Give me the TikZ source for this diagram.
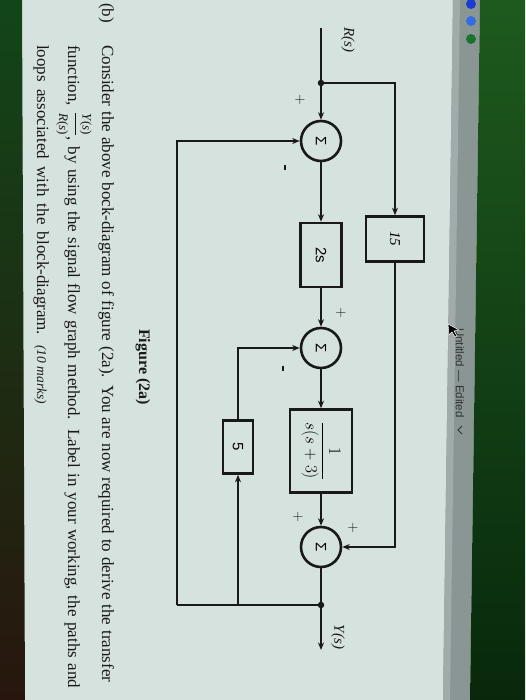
\documentclass[tikz,border=0pt]{standalone}
\usepackage{fontspec}
\setmainfont{Liberation Serif}
\setsansfont{Liberation Sans}
\usetikzlibrary{arrows.meta}
\definecolor{pagebg}{RGB}{214,226,222}
\definecolor{barbg}{RGB}{138,150,148}
\definecolor{darkgreen}{RGB}{18,70,24}
\definecolor{deepgreen}{RGB}{8,40,12}
\definecolor{midgreen}{RGB}{30,90,30}
\definecolor{darkbrown}{RGB}{40,22,14}
\definecolor{btnblue}{RGB}{25,60,210}
\definecolor{btnlblue}{RGB}{50,110,225}
\definecolor{btngreen}{RGB}{25,115,45}
\definecolor{ink}{RGB}{25,25,25}
\newcommand\yrfrac{\raisebox{3pt}{$\displaystyle\frac{\mbox{\fontsize{13}{13}\selectfont\textit{Y}(\textit{s})}}{\mbox{\fontsize{13}{13}\selectfont\textit{R}(\textit{s})}}$}}
\begin{document}
\begin{tikzpicture}[x=1pt,y=-1pt,
  wire/.style={line width=1.6pt, draw=ink},
  arr/.style={wire, -{Stealth[length=7.5pt,width=6pt]}},
  blk/.style={draw=ink, line width=2.6pt, inner sep=0pt},
  sumn/.style={circle, draw=ink, line width=2.6pt, minimum size=40pt, inner sep=0pt, font=\sffamily\fontsize{15}{15}\selectfont},
  sgn/.style={text=ink, font=\fontsize{15}{15}\selectfont, rotate=-90, inner sep=0pt},
  lbl/.style={text=ink, font=\itshape\fontsize{15}{15}\selectfont, rotate=-90, inner sep=0pt},
  para/.style={text=ink, font=\fontsize{17}{20}\selectfont, rotate=-90, anchor=base west, inner sep=0pt},
  dot/.style={circle, fill=ink, inner sep=0pt, minimum size=6.5pt}
]
\useasboundingbox (0,0) rectangle (525,700);
% background
\fill[pagebg] (0,0) rectangle (525,700);
\shade[top color=darkgreen, bottom color=darkbrown] (0,0) -- (22,0) -- (25,700) -- (0,700) -- cycle;
\fill[barbg] (453,0) -- (480,0) -- (470,700) -- (443,700) -- cycle;
\fill[barbg!80!white] (453,0) -- (460,0) -- (450,700) -- (443,700) -- cycle;
\shade[top color=midgreen, bottom color=deepgreen] (480,0) -- (525,0) -- (525,700) -- (470,700) -- cycle;
\fill[btnblue] (471,4) circle (5);
\fill[btnlblue] (471,21) circle (5);
\fill[btngreen] (471,39) circle (5);
\node[rotate=-90, anchor=west, inner sep=0pt, text=black!80, font=\sffamily\fontsize{11.5}{12}\selectfont] (title) at (460,328) {Untitled --- Edited};
\draw[black!80, line width=0.9pt] (462,426) -- (458,430) -- (462,434);
\fill[black, draw=white, line width=0.5pt] (448,324) -- (459,330) -- (454,331) -- (457,336) -- (455,337) -- (452,332) -- (449,335) -- cycle;

% diagram nodes
\node[dot] (j1) at (321,83) {};
\node[sumn] (s1) at (321,141) {\rotatebox{-90}{Σ}};
\node[blk, minimum width=41pt, minimum height=64pt, font=\sffamily\fontsize{15}{15}\selectfont] (b2s) at (321,255) {\rotatebox{-90}{2s}};
\node[blk, minimum width=58pt, minimum height=45pt, font=\itshape\fontsize{15}{15}\selectfont] (b15) at (395,239) {\rotatebox{-90}{15}};
\node[sumn] (s2) at (321,348) {\rotatebox{-90}{Σ}};
\node[blk, minimum width=62pt, minimum height=83pt, font=\fontsize{18}{18}\selectfont] (bG) at (321,451) {\rotatebox{-90}{$\displaystyle\frac{1}{s(s+3)}$}};
\node[blk, minimum width=30pt, minimum height=53pt, font=\sffamily\fontsize{15}{15}\selectfont] (b5) at (238,447) {\rotatebox{-90}{5}};
\node[sumn] (s3) at (321,547) {\rotatebox{-90}{Σ}};
\node[dot] (j2) at (321,605) {};
\coordinate (rin) at (321,28);
\coordinate (yout) at (321,650);
\coordinate (fbA) at (177,605);
\coordinate (f5a) at (238,605);

% connectors
\draw[wire] (rin) -- (j1);
\draw[arr] (j1) -- (s1);
\draw[arr] (j1) -| (b15);
\draw[arr] (s1) -- (b2s);
\draw[arr] (b2s) -- (s2);
\draw[arr] (s2) -- (bG);
\draw[arr] (bG) -- (s3);
\draw[arr] (b15) |- (s3);
\draw[wire] (s3) -- (j2);
\draw[arr] (j2) -- (yout);
\draw[wire] (j2) -- (fbA);
\draw[arr] (fbA) |- (s1);
\draw[arr] (f5a) -- (b5);
\draw[arr] (b5) |- (s2);

% labels
\node[lbl] (lr) at (348,40) {R(s)};
\node[lbl] (ly) at (338,637) {Y(s)};
\node[sgn] (p1) at (300,100) {$+$};
\node[sgn] (m1) at (285,168) {\rule{5pt}{1.3pt}};
\node[sgn] (p2) at (341,313) {$+$};
\node[sgn] (m2) at (283,368) {\rule{5pt}{1.3pt}};
\node[sgn] (p3) at (298,517) {$+$};
\node[sgn] (p4) at (353,528) {$+$};
\node[rotate=-90, inner sep=0pt, text=ink, font=\bfseries\fontsize{16}{16}\selectfont] (fig) at (143,367) {Figure (2a)};

% paragraph
\node[para] (l0) at (102,3) {(b)};
\node[para] (l1) at (102,45) {\makebox[637pt][s]{Consider the above bock-diagram of figure (2a). You are now required to derive the transfer}};
\node[para] (l2) at (68,45) {\makebox[643pt][s]{function, \yrfrac, by using the signal flow graph method. Label in your working, the paths and}};
\node[para] (l3) at (37,45) {\makebox[290pt][s]{loops associated with the block-diagram.}};
\node[para, font=\itshape\fontsize{13.5}{16}\selectfont] (l4) at (37,345) {(10 marks)};
\end{tikzpicture}
\end{document}
